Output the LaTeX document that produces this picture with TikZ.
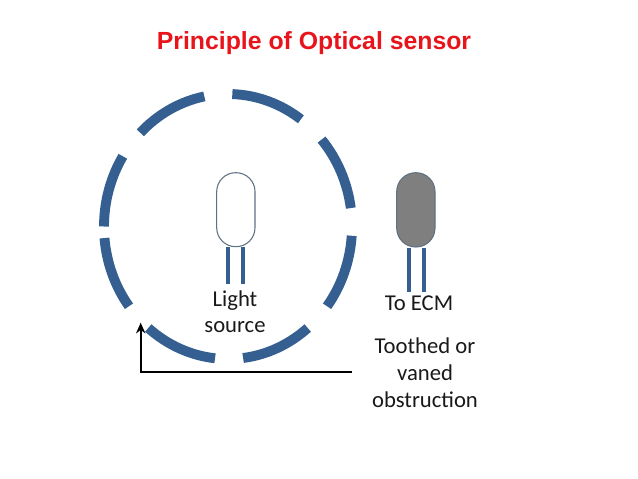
\documentclass[tikz,border=0pt]{standalone}
\usepackage{fontspec}
\setmainfont{Carlito}
\newfontfamily\titlefont{Liberation Sans}
\usetikzlibrary{arrows.meta}
\definecolor{ringblue}{HTML}{355F91}
\definecolor{titlered}{HTML}{E8141C}
\definecolor{bulbedge}{HTML}{5F7183}
\definecolor{bulbgray}{HTML}{7F7F7F}
\newcommand{\ringarc}[2]{\draw[ringseg] ({228+124*cos(#1)},{226.5-132.5*sin(#1)}) arc[start angle=-#1, end angle=-#2, x radius=124, y radius=132.5];}
\tikzset{
  x=0.75pt,y=0.75pt,
  ringseg/.style={draw=ringblue,line width=7.4pt},
  leadline/.style={draw=ringblue,line width=3.2pt},
  bulb/.style={draw=bulbedge,line width=0.8pt,rounded corners=14.2pt},
  label/.style={font=\fontsize{17pt}{20pt}\selectfont,text=black!90,inner sep=0pt,align=center},
  pointer/.style={draw=black,line width=1.4pt,-{Stealth[length=8pt,width=7pt]}},
}
\begin{document}
\begin{tikzpicture}[yscale=-1]
\useasboundingbox (0,0) rectangle (638,478);
\node[font=\titlefont\bfseries\fontsize{18.6pt}{22pt}\selectfont,text=titlered,inner sep=0pt] (title) at (314,43) {Principle of Optical sensor};
\ringarc{101}{135}
\ringarc{88}{54}
\ringarc{41}{8}
\ringarc{-4}{-37}
\ringarc{-50}{-83}
\ringarc{-96}{-130}
\ringarc{-143}{-175}
\ringarc{180}{148}
\draw[bulb,fill=white] (216.7,172.7) rectangle (255,246.7);
\draw[leadline] (227.7,247) -- (227.7,284);
\draw[leadline] (243,247) -- (243,284);
\draw[bulb,fill=bulbgray] (396.7,172.7) rectangle (435,247);
\draw[leadline] (408.7,247.5) -- (408.7,292);
\draw[leadline] (423.7,247.5) -- (423.7,292);
\node[label] (light) at (235,300.5) {Light};
\node[label] (source) at (235,327) {source};
\node[label] (ecm) at (419,303) {To ECM};
\node[label] (toothed) at (425,346) {Toothed or};
\node[label] (vaned) at (425,373) {vaned};
\node[label] (obstruction) at (425,400) {obstruction};
\coordinate (pstart) at (351.7,371.7);
\coordinate (pcorner) at (140.7,371.7);
\coordinate (ptip) at (140.7,322.7);
\draw[pointer] (pstart) -- (pcorner) -- (ptip);
\end{tikzpicture}
\end{document}
